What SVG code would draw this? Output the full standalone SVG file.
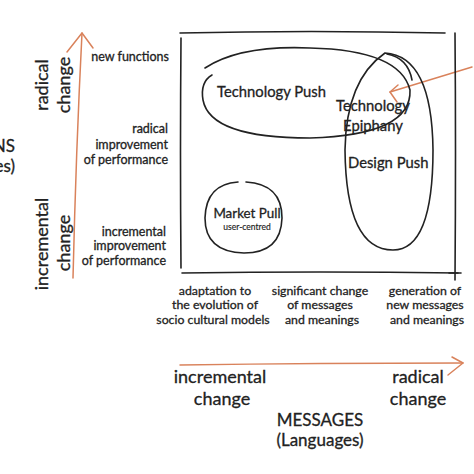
<svg xmlns="http://www.w3.org/2000/svg" width="474" height="474" viewBox="0 0 474 474">
<style>
.t{font-family:Lato,"Open Sans","Liberation Sans",sans-serif;fill:#222;stroke:#222;stroke-width:0.3}
.s{font-size:12.5px}
.m{font-size:12.3px}
.l{font-size:14.8px}
.xl{font-size:18px}
.r{text-anchor:end}
.c{text-anchor:middle}
.k{fill:none;stroke:#222;stroke-width:1.6;stroke-linecap:round}
.o{fill:none;stroke:#d9825b;stroke-width:1.5;stroke-linecap:round;stroke-linejoin:round}
</style>
<rect width="474" height="474" fill="#fff"/>
<g id="connectors">
<path class="o" d="M73 278 Q76 150 82 33"/>
<path class="o" d="M67 52 L82 33 L93 48"/>
<path class="o" d="M180 365 Q320 363 463 363"/>
<path class="o" d="M452 357 L463 363 L448 375"/>
<path class="o" d="M472 67 L390 92"/>
<path class="o" d="M398 85 L390 92 L397 102"/>
</g>
<g id="frame">
<path class="k" d="M180 33 Q310 30 445 33"/>
<path class="k" d="M181 38 Q180 150 181 268"/>
<path class="k" d="M455 33 Q456 150 455 280"/>
<path class="k" d="M182 273 Q320 271 458 273"/>
<path class="k" d="M449 273 L461 273"/>
</g>
<g id="technology-push">
<path class="k" d="M205 68 Q240 45 310 48 Q400 50 410 90 Q412 135 310 138 Q210 138 203 100 Q200 82 212 75"/>
<text class="t l" x="217" y="97">Technology Push</text>
</g>
<g id="design-push">
<path class="k" d="M385 53 Q432 56 433 150 Q433 250 393 250 Q346 250 345 150 Q346 80 385 53"/>
<path class="k" d="M387 54 Q408 58 412 80"/>
<text class="t l" x="348" y="168">Design Push</text>
</g>
<g id="technology-epiphany">
<text class="t l c" x="373" y="111">Technology</text>
<text class="t l c" x="373" y="131">Epiphany</text>
</g>
<g id="market-pull">
<path class="k" d="M246 182 Q282 184 282 218 Q281 253 244 253 Q205 252 205 218 Q206 184 238 182"/>
<text class="t c" style="font-size:13.4px" x="247" y="218">Market Pull</text>
<text class="t c" style="font-size:8.5px;stroke-width:0.15" x="247" y="230">user-centred</text>
</g>
<g id="y-axis-labels">
<text class="t xl c" transform="translate(48,85) rotate(-90)">radical</text>
<text class="t xl c" transform="translate(70,85) rotate(-90)">change</text>
<text class="t xl c" transform="translate(48,244) rotate(-90)">incremental</text>
<text class="t xl c" transform="translate(70,243) rotate(-90)">change</text>
<text class="t r" style="font-size:17px" x="15" y="152">NS</text>
<text class="t r" style="font-size:17px" x="15" y="172">es)</text>
<text class="t s r" x="169" y="61">new functions</text>
<text class="t s r" x="168" y="133">radical</text>
<text class="t s r" x="168" y="149">improvement</text>
<text class="t s r" x="168" y="164">of performance</text>
<text class="t s r" x="166" y="236">incremental</text>
<text class="t s r" x="166" y="250">improvement</text>
<text class="t s r" x="166" y="265">of performance</text>
</g>
<g id="x-axis-labels">
<text class="t m c" x="215" y="295">adaptation to</text>
<text class="t m c" x="215" y="309">the evolution of</text>
<text class="t m c" x="213" y="324">socio cultural models</text>
<text class="t m c" x="320" y="295">significant change</text>
<text class="t m c" x="320" y="309">of messages</text>
<text class="t m c" x="322" y="324">and meanings</text>
<text class="t m c" x="425" y="295">generation of</text>
<text class="t m c" x="425" y="309">new messages</text>
<text class="t m c" x="427" y="324">and meanings</text>
<text class="t xl c" x="220" y="383">incremental</text>
<text class="t xl c" x="222" y="405">change</text>
<text class="t xl c" x="418" y="383">radical</text>
<text class="t xl c" x="418" y="405">change</text>
<text class="t c" style="font-size:17px" x="320" y="426">MESSAGES</text>
<text class="t c" style="font-size:17px" x="320" y="446">(Languages)</text>
</g>
</svg>
